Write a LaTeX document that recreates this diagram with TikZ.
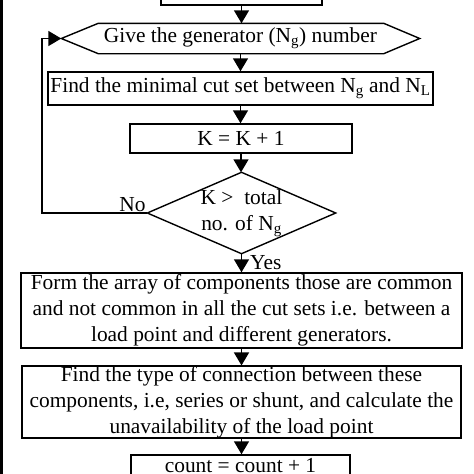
\documentclass[tikz,border=0pt]{standalone}
\usepackage{fontspec}
\setmainfont{Liberation Serif}
\usetikzlibrary{arrows.meta}

\begin{document}
\begin{tikzpicture}[x=1pt,y=-1pt,line width=1.4pt,
  box/.style={draw,rectangle,inner sep=0pt,align=center},
  arr/.style={-{Triangle[length=13pt,width=15pt]}},
  lbl/.style={inner sep=1pt}]
\useasboundingbox (0,0) rectangle (474,474);
\fontsize{21.4}{26}\selectfont

% border on the left
\draw[line width=3pt] (1.5,0) -- (1.5,474);

% steps of the chart
\node[box,minimum width=161pt,minimum height=30pt] (top) at (241.5,-10) {};
\node[inner sep=0pt,minimum width=357pt,minimum height=29pt] (give) at (240.5,38.5) {Give the generator (N\textsubscript{g}) number};
\draw (give.west) -- ([xshift=37pt]give.north west) -- ([xshift=-36pt]give.north east)
  -- (give.east) -- ([xshift=-36pt]give.south east) -- ([xshift=37pt]give.south west) -- cycle;
\node[box,minimum width=385pt,minimum height=33pt] (cut) at (240.5,88.5) {Find the minimal cut set between N\textsubscript{g} and N\textsubscript{L}};
\node[box,minimum width=222pt,minimum height=29pt] (kinc) at (241,138.5) {K = K + 1};
\node[inner sep=0pt,minimum width=187pt,minimum height=80pt,align=center] (check) at (241.5,213) {K >\ \ total\\no. of N\textsubscript{g}};
\draw (check.north) -- (check.east) -- (check.south) -- (check.west) -- cycle;
\node[box,minimum width=441pt,minimum height=75pt] (form) at (241.5,310.5) {Form the array of components those are common\\and not common in all the cut sets i.e. between a\\load point and different generators.};
\node[box,minimum width=439pt,minimum height=70pt] (type) at (241.5,402) {Find the type of connection between these\\components, i.e, series or shunt, and calculate the\\unavailability of the load point};
\node[box,minimum width=219pt,minimum height=22pt] (count) at (240.5,466) {count = count + 1};
\coordinate (loop) at (42,213);

% connectors
\draw[arr] (top.south) -- (top.south |- give.north);
\draw[arr] (give.south) -- (give.south |- cut.north);
\draw[arr] (cut.south) -- (cut.south |- kinc.north);
\draw[arr] (kinc.south) -- (kinc.south |- check.north);
\draw[arr] (check.south) -- node[lbl,right,xshift=7pt] {Yes} (check.south |- form.north);
\draw[arr] (form.south) -- (form.south |- type.north);
\draw[arr] (type.south) -- (type.south |- count.north);
\draw[arr] (check.west) -- (loop) |- (give.west);
\node[lbl,above left] (no) at (check.west) {No};

\end{tikzpicture}
\end{document}
